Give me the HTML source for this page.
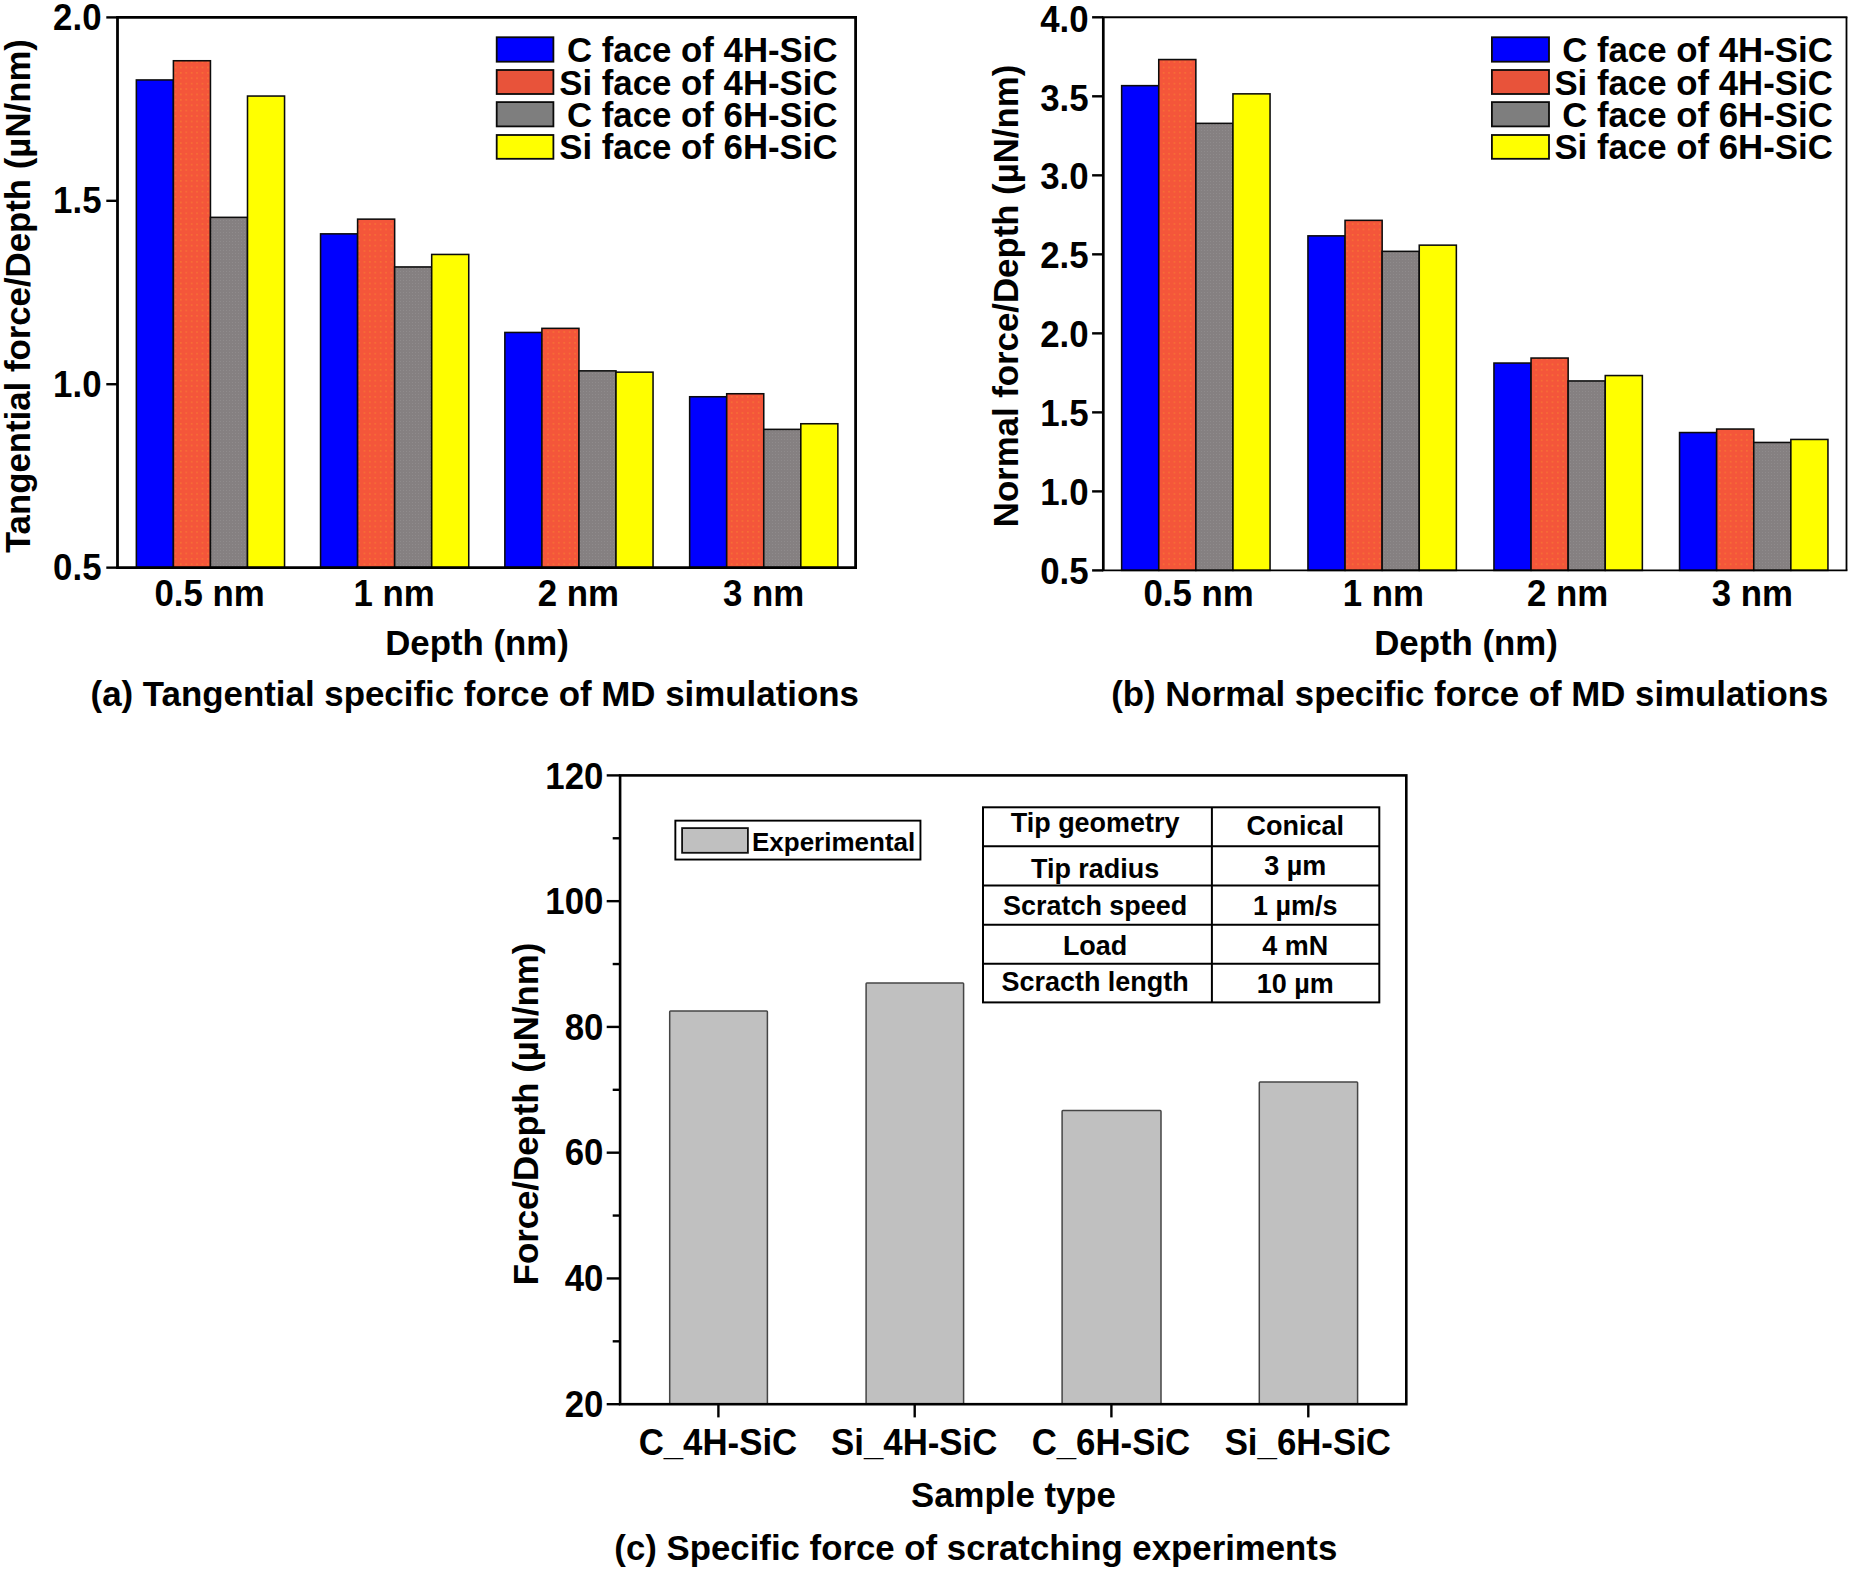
<!DOCTYPE html>
<html lang="en"><head><meta charset="utf-8"><title>Specific force of MD simulations and scratching experiments</title>
<style>
html,body{margin:0;padding:0;background:#fff;}
body{width:1850px;height:1572px;overflow:hidden;}
svg{display:block;}
text{font-family:"Liberation Sans",sans-serif;font-weight:bold;fill:#000;}
.t{font-size:34.8px;}
.s{font-size:26.95px;}
</style></head><body>
<svg width="1850" height="1572" viewBox="0 0 1850 1572">
<rect x="0" y="0" width="1850" height="1572" fill="#fff"/>
<defs>
<pattern id="pr" width="5.4" height="5.4" patternUnits="userSpaceOnUse"><rect width="5.4" height="5.4" fill="#f4563a"/><rect x="2" y="2" width="1.3" height="1.3" fill="#f97d33"/></pattern>
<pattern id="pg" width="3" height="3" patternUnits="userSpaceOnUse"><rect width="3" height="3" fill="#858081"/><rect x="1" y="1" width="1" height="1" fill="#8f8b8c"/></pattern>
</defs>
<g id="panel-a">
<rect x="136.35" y="79.95" width="37.05" height="487.70" fill="#0000ff" stroke="#0c0c0c" stroke-width="1.55"/>
<rect x="173.40" y="60.75" width="37.05" height="506.90" fill="url(#pr)" stroke="#0c0c0c" stroke-width="1.55"/>
<rect x="210.45" y="217.35" width="37.05" height="350.30" fill="url(#pg)" stroke="#0c0c0c" stroke-width="1.55"/>
<rect x="247.50" y="96.05" width="37.05" height="471.60" fill="#ffff00" stroke="#0c0c0c" stroke-width="1.55"/>
<rect x="320.55" y="233.85" width="37.05" height="333.80" fill="#0000ff" stroke="#0c0c0c" stroke-width="1.55"/>
<rect x="357.60" y="219.15" width="37.05" height="348.50" fill="url(#pr)" stroke="#0c0c0c" stroke-width="1.55"/>
<rect x="394.65" y="266.95" width="37.05" height="300.70" fill="url(#pg)" stroke="#0c0c0c" stroke-width="1.55"/>
<rect x="431.70" y="254.45" width="37.05" height="313.20" fill="#ffff00" stroke="#0c0c0c" stroke-width="1.55"/>
<rect x="504.85" y="332.45" width="37.05" height="235.20" fill="#0000ff" stroke="#0c0c0c" stroke-width="1.55"/>
<rect x="541.90" y="328.35" width="37.05" height="239.30" fill="url(#pr)" stroke="#0c0c0c" stroke-width="1.55"/>
<rect x="578.95" y="370.85" width="37.05" height="196.80" fill="url(#pg)" stroke="#0c0c0c" stroke-width="1.55"/>
<rect x="616.00" y="372.15" width="37.05" height="195.50" fill="#ffff00" stroke="#0c0c0c" stroke-width="1.55"/>
<rect x="689.65" y="396.75" width="37.05" height="170.90" fill="#0000ff" stroke="#0c0c0c" stroke-width="1.55"/>
<rect x="726.70" y="393.75" width="37.05" height="173.90" fill="url(#pr)" stroke="#0c0c0c" stroke-width="1.55"/>
<rect x="763.75" y="429.35" width="37.05" height="138.30" fill="url(#pg)" stroke="#0c0c0c" stroke-width="1.55"/>
<rect x="800.80" y="423.75" width="37.05" height="143.90" fill="#ffff00" stroke="#0c0c0c" stroke-width="1.55"/>
<path d="M116.10 17.40 H857.00" stroke="#000" stroke-width="2.6" fill="none"/>
<path d="M117.50 17.40 V567.65" stroke="#000" stroke-width="2.8" fill="none"/>
<path d="M116.10 567.65 H857.00" stroke="#000" stroke-width="2.8" fill="none"/>
<path d="M855.60 17.40 V567.65" stroke="#000" stroke-width="2.8" fill="none"/>
<path d="M106.30 17.40 H117.50" stroke="#000" stroke-width="2.4" fill="none"/>
<text class="t" transform="translate(101.50 30.00) scale(1 1.040)" text-anchor="end">2.0</text>
<path d="M106.30 200.82 H117.50" stroke="#000" stroke-width="2.4" fill="none"/>
<text class="t" transform="translate(101.50 213.40) scale(1 1.040)" text-anchor="end">1.5</text>
<path d="M106.30 384.23 H117.50" stroke="#000" stroke-width="2.4" fill="none"/>
<text class="t" transform="translate(101.50 396.80) scale(1 1.040)" text-anchor="end">1.0</text>
<path d="M106.30 567.65 H117.50" stroke="#000" stroke-width="2.4" fill="none"/>
<text class="t" transform="translate(101.50 580.20) scale(1 1.040)" text-anchor="end">0.5</text>
<text class="t" transform="translate(29.80 296.10) rotate(-90) scale(1 1.020)" text-anchor="middle">Tangential force/Depth (µN/nm)</text>
<text class="t" transform="translate(209.50 606.00) scale(1 1.040)" text-anchor="middle">0.5 nm</text>
<text class="t" transform="translate(394.00 606.00) scale(1 1.040)" text-anchor="middle">1 nm</text>
<text class="t" transform="translate(578.40 606.00) scale(1 1.040)" text-anchor="middle">2 nm</text>
<text class="t" transform="translate(763.60 606.00) scale(1 1.040)" text-anchor="middle">3 nm</text>
<text class="t" transform="translate(477.00 654.80) scale(1 1.020)" text-anchor="middle">Depth (nm)</text>
<text class="t" transform="translate(474.75 706.40) scale(1 1.015)" text-anchor="middle" style="font-size:34.88px">(a) Tangential specific force of MD simulations</text>
<rect x="496.70" y="37.25" width="56.70" height="24.45" fill="#0000ff" stroke="#0a0a0a" stroke-width="1.8"/>
<text class="t" transform="translate(837.60 62.40) scale(1 1.035)" text-anchor="end">C face of 4H-SiC</text>
<rect x="496.70" y="70.00" width="56.70" height="24.00" fill="#e8533a" stroke="#0a0a0a" stroke-width="1.8"/>
<text class="t" transform="translate(837.60 95.10) scale(1 1.035)" text-anchor="end">Si face of 4H-SiC</text>
<rect x="496.70" y="102.10" width="56.70" height="24.30" fill="#7e7e7e" stroke="#0a0a0a" stroke-width="1.8"/>
<text class="t" transform="translate(837.60 126.90) scale(1 1.035)" text-anchor="end">C face of 6H-SiC</text>
<rect x="496.70" y="135.00" width="56.70" height="23.80" fill="#ffff00" stroke="#0a0a0a" stroke-width="1.8"/>
<text class="t" transform="translate(837.60 159.20) scale(1 1.035)" text-anchor="end">Si face of 6H-SiC</text>
</g>
<g id="panel-b">
<rect x="1121.65" y="85.65" width="37.10" height="484.75" fill="#0000ff" stroke="#0c0c0c" stroke-width="1.55"/>
<rect x="1158.75" y="59.55" width="37.10" height="510.85" fill="url(#pr)" stroke="#0c0c0c" stroke-width="1.55"/>
<rect x="1195.85" y="123.35" width="37.10" height="447.05" fill="url(#pg)" stroke="#0c0c0c" stroke-width="1.55"/>
<rect x="1232.95" y="93.85" width="37.10" height="476.55" fill="#ffff00" stroke="#0c0c0c" stroke-width="1.55"/>
<rect x="1307.95" y="235.85" width="37.10" height="334.55" fill="#0000ff" stroke="#0c0c0c" stroke-width="1.55"/>
<rect x="1345.05" y="220.35" width="37.10" height="350.05" fill="url(#pr)" stroke="#0c0c0c" stroke-width="1.55"/>
<rect x="1382.15" y="251.35" width="37.10" height="319.05" fill="url(#pg)" stroke="#0c0c0c" stroke-width="1.55"/>
<rect x="1419.25" y="245.15" width="37.10" height="325.25" fill="#ffff00" stroke="#0c0c0c" stroke-width="1.55"/>
<rect x="1493.95" y="363.05" width="37.10" height="207.35" fill="#0000ff" stroke="#0c0c0c" stroke-width="1.55"/>
<rect x="1531.05" y="358.05" width="37.10" height="212.35" fill="url(#pr)" stroke="#0c0c0c" stroke-width="1.55"/>
<rect x="1568.15" y="380.95" width="37.10" height="189.45" fill="url(#pg)" stroke="#0c0c0c" stroke-width="1.55"/>
<rect x="1605.25" y="375.55" width="37.10" height="194.85" fill="#ffff00" stroke="#0c0c0c" stroke-width="1.55"/>
<rect x="1679.55" y="432.55" width="37.10" height="137.85" fill="#0000ff" stroke="#0c0c0c" stroke-width="1.55"/>
<rect x="1716.65" y="429.05" width="37.10" height="141.35" fill="url(#pr)" stroke="#0c0c0c" stroke-width="1.55"/>
<rect x="1753.75" y="442.45" width="37.10" height="127.95" fill="url(#pg)" stroke="#0c0c0c" stroke-width="1.55"/>
<rect x="1790.85" y="439.45" width="37.10" height="130.95" fill="#ffff00" stroke="#0c0c0c" stroke-width="1.55"/>
<path d="M1101.95 17.30 H1847.40" stroke="#000" stroke-width="2.1" fill="none"/>
<path d="M1103.30 17.30 V570.40" stroke="#000" stroke-width="2.7" fill="none"/>
<path d="M1101.95 570.40 H1847.40" stroke="#000" stroke-width="1.8" fill="none"/>
<path d="M1846.50 17.30 V570.40" stroke="#000" stroke-width="1.8" fill="none"/>
<path d="M1092.10 17.30 H1103.30" stroke="#000" stroke-width="2.4" fill="none"/>
<text class="t" transform="translate(1088.60 31.80) scale(1 1.040)" text-anchor="end">4.0</text>
<path d="M1092.10 96.31 H1103.30" stroke="#000" stroke-width="2.4" fill="none"/>
<text class="t" transform="translate(1088.60 110.61) scale(1 1.040)" text-anchor="end">3.5</text>
<path d="M1092.10 175.33 H1103.30" stroke="#000" stroke-width="2.4" fill="none"/>
<text class="t" transform="translate(1088.60 189.43) scale(1 1.040)" text-anchor="end">3.0</text>
<path d="M1092.10 254.34 H1103.30" stroke="#000" stroke-width="2.4" fill="none"/>
<text class="t" transform="translate(1088.60 268.24) scale(1 1.040)" text-anchor="end">2.5</text>
<path d="M1092.10 333.36 H1103.30" stroke="#000" stroke-width="2.4" fill="none"/>
<text class="t" transform="translate(1088.60 347.06) scale(1 1.040)" text-anchor="end">2.0</text>
<path d="M1092.10 412.37 H1103.30" stroke="#000" stroke-width="2.4" fill="none"/>
<text class="t" transform="translate(1088.60 425.87) scale(1 1.040)" text-anchor="end">1.5</text>
<path d="M1092.10 491.39 H1103.30" stroke="#000" stroke-width="2.4" fill="none"/>
<text class="t" transform="translate(1088.60 504.69) scale(1 1.040)" text-anchor="end">1.0</text>
<path d="M1092.10 570.40 H1103.30" stroke="#000" stroke-width="2.4" fill="none"/>
<text class="t" transform="translate(1088.60 583.50) scale(1 1.040)" text-anchor="end">0.5</text>
<text class="t" transform="translate(1017.90 296.00) rotate(-90) scale(1 1.020)" text-anchor="middle">Normal force/Depth (µN/nm)</text>
<text class="t" transform="translate(1198.60 606.00) scale(1 1.040)" text-anchor="middle">0.5 nm</text>
<text class="t" transform="translate(1383.40 606.00) scale(1 1.040)" text-anchor="middle">1 nm</text>
<text class="t" transform="translate(1567.70 606.00) scale(1 1.040)" text-anchor="middle">2 nm</text>
<text class="t" transform="translate(1752.30 606.00) scale(1 1.040)" text-anchor="middle">3 nm</text>
<text class="t" transform="translate(1466.00 654.70) scale(1 1.020)" text-anchor="middle">Depth (nm)</text>
<text class="t" transform="translate(1469.80 706.40) scale(1 1.015)" text-anchor="middle">(b) Normal specific force of MD simulations</text>
<rect x="1491.90" y="37.25" width="57.10" height="24.45" fill="#0000ff" stroke="#0a0a0a" stroke-width="1.8"/>
<text class="t" transform="translate(1832.80 62.40) scale(1 1.035)" text-anchor="end">C face of 4H-SiC</text>
<rect x="1491.90" y="70.00" width="57.10" height="24.00" fill="#e8533a" stroke="#0a0a0a" stroke-width="1.8"/>
<text class="t" transform="translate(1832.80 95.10) scale(1 1.035)" text-anchor="end">Si face of 4H-SiC</text>
<rect x="1491.90" y="102.10" width="57.10" height="24.30" fill="#7e7e7e" stroke="#0a0a0a" stroke-width="1.8"/>
<text class="t" transform="translate(1832.80 126.90) scale(1 1.035)" text-anchor="end">C face of 6H-SiC</text>
<rect x="1491.90" y="135.00" width="57.10" height="23.80" fill="#ffff00" stroke="#0a0a0a" stroke-width="1.8"/>
<text class="t" transform="translate(1832.80 159.20) scale(1 1.035)" text-anchor="end">Si face of 6H-SiC</text>
</g>
<g id="panel-c">
<rect x="669.70" y="1010.90" width="97.70" height="393.30" fill="#c0c0c0" stroke="#454545" stroke-width="1.5" rx="0.8"/>
<rect x="866.10" y="982.90" width="97.50" height="421.30" fill="#c0c0c0" stroke="#454545" stroke-width="1.5" rx="0.8"/>
<rect x="1062.10" y="1110.60" width="98.90" height="293.60" fill="#c0c0c0" stroke="#454545" stroke-width="1.5" rx="0.8"/>
<rect x="1259.30" y="1081.90" width="98.30" height="322.30" fill="#c0c0c0" stroke="#454545" stroke-width="1.5" rx="0.8"/>
<rect x="620.10" y="775.40" width="786.20" height="628.80" fill="none" stroke="#000" stroke-width="2.6"/>
<path d="M606.70 1404.20 H620.10" stroke="#000" stroke-width="2.4" fill="none"/>
<text class="t" transform="translate(603.40 1416.50) scale(1 1.040)" text-anchor="end">20</text>
<path d="M612.70 1341.32 H620.10" stroke="#000" stroke-width="2.4" fill="none"/>
<path d="M606.70 1278.44 H620.10" stroke="#000" stroke-width="2.4" fill="none"/>
<text class="t" transform="translate(603.40 1290.96) scale(1 1.040)" text-anchor="end">40</text>
<path d="M612.70 1215.56 H620.10" stroke="#000" stroke-width="2.4" fill="none"/>
<path d="M606.70 1152.68 H620.10" stroke="#000" stroke-width="2.4" fill="none"/>
<text class="t" transform="translate(603.40 1165.42) scale(1 1.040)" text-anchor="end">60</text>
<path d="M612.70 1089.80 H620.10" stroke="#000" stroke-width="2.4" fill="none"/>
<path d="M606.70 1026.92 H620.10" stroke="#000" stroke-width="2.4" fill="none"/>
<text class="t" transform="translate(603.40 1039.88) scale(1 1.040)" text-anchor="end">80</text>
<path d="M612.70 964.04 H620.10" stroke="#000" stroke-width="2.4" fill="none"/>
<path d="M606.70 901.16 H620.10" stroke="#000" stroke-width="2.4" fill="none"/>
<text class="t" transform="translate(603.40 914.34) scale(1 1.040)" text-anchor="end">100</text>
<path d="M612.70 838.28 H620.10" stroke="#000" stroke-width="2.4" fill="none"/>
<path d="M606.70 775.40 H620.10" stroke="#000" stroke-width="2.4" fill="none"/>
<text class="t" transform="translate(603.40 788.80) scale(1 1.040)" text-anchor="end">120</text>
<path d="M718.40 1404.20 V1417.40" stroke="#000" stroke-width="2.4" fill="none"/>
<text class="t" transform="translate(717.90 1455.10) scale(1 1.040)" text-anchor="middle">C_4H-SiC</text>
<path d="M914.70 1404.20 V1417.40" stroke="#000" stroke-width="2.4" fill="none"/>
<text class="t" transform="translate(914.20 1455.10) scale(1 1.040)" text-anchor="middle">Si_4H-SiC</text>
<path d="M1111.40 1404.20 V1417.40" stroke="#000" stroke-width="2.4" fill="none"/>
<text class="t" transform="translate(1110.90 1455.10) scale(1 1.040)" text-anchor="middle">C_6H-SiC</text>
<path d="M1308.30 1404.20 V1417.40" stroke="#000" stroke-width="2.4" fill="none"/>
<text class="t" transform="translate(1307.80 1455.10) scale(1 1.040)" text-anchor="middle">Si_6H-SiC</text>
<text class="t" transform="translate(538.30 1114.00) rotate(-90) scale(1 1.020)" text-anchor="middle">Force/Depth (µN/nm)</text>
<text class="t" transform="translate(1013.50 1506.50) scale(1 1.020)" text-anchor="middle">Sample type</text>
<text class="t" transform="translate(975.80 1559.50) scale(1 1.015)" text-anchor="middle">(c) Specific force of scratching experiments</text>
<rect x="675.35" y="820.65" width="245.1" height="38.9" fill="#fff" stroke="#000" stroke-width="1.9"/>
<rect x="682.1" y="828.1" width="65.8" height="24.7" fill="#c0c0c0" stroke="#111" stroke-width="1.8"/>
<text class="s" transform="translate(752.00 850.50) scale(1 1.020)" style="font-size:26px">Experimental</text>
<rect x="983.00" y="807.30" width="396.30" height="195.10" fill="#fff" stroke="#000" stroke-width="2"/>
<path d="M983.00 846.20 H1379.30" stroke="#000" stroke-width="2" fill="none"/>
<path d="M983.00 885.60 H1379.30" stroke="#000" stroke-width="2" fill="none"/>
<path d="M983.00 924.80 H1379.30" stroke="#000" stroke-width="2" fill="none"/>
<path d="M983.00 963.70 H1379.30" stroke="#000" stroke-width="2" fill="none"/>
<path d="M1211.90 807.30 V1002.40" stroke="#000" stroke-width="2" fill="none"/>
<text class="s" transform="translate(1095.10 832.40) scale(1 1.020)" text-anchor="middle">Tip geometry</text>
<text class="s" transform="translate(1295.20 835.20) scale(1 1.020)" text-anchor="middle">Conical</text>
<text class="s" transform="translate(1095.10 877.90) scale(1 1.020)" text-anchor="middle">Tip radius</text>
<text class="s" transform="translate(1295.20 874.50) scale(1 1.020)" text-anchor="middle">3 µm</text>
<text class="s" transform="translate(1095.10 914.60) scale(1 1.020)" text-anchor="middle">Scratch speed</text>
<text class="s" transform="translate(1295.20 914.60) scale(1 1.020)" text-anchor="middle">1 µm/s</text>
<text class="s" transform="translate(1095.10 955.00) scale(1 1.020)" text-anchor="middle">Load</text>
<text class="s" transform="translate(1295.20 954.80) scale(1 1.020)" text-anchor="middle">4 mN</text>
<text class="s" transform="translate(1095.10 990.50) scale(1 1.020)" text-anchor="middle">Scracth length</text>
<text class="s" transform="translate(1295.20 993.00) scale(1 1.020)" text-anchor="middle">10 µm</text>
</g>
</svg></body></html>
